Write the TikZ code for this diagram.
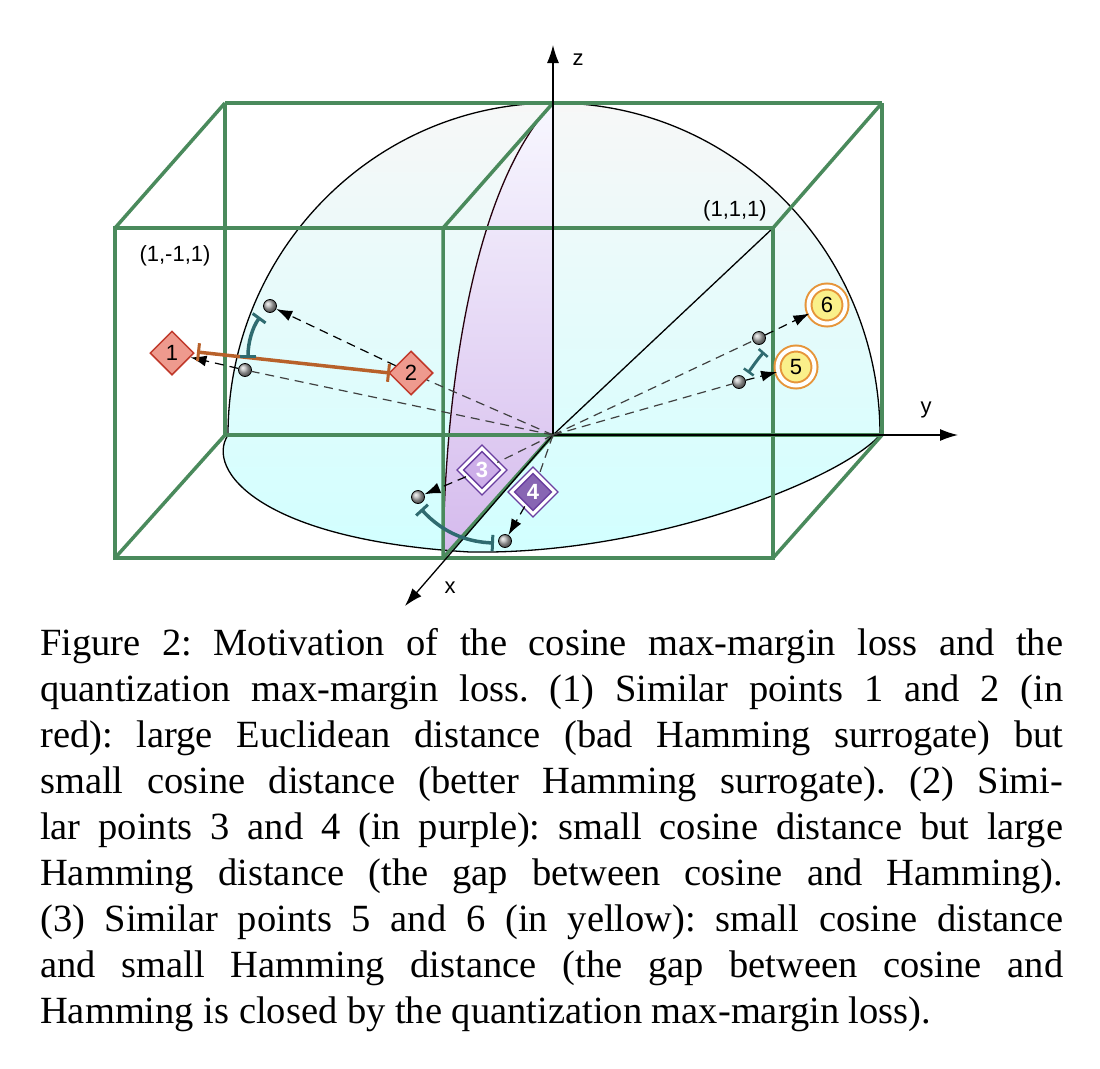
\documentclass[tikz,border=0pt]{standalone}
\usepackage{fontspec}
\setmainfont{Liberation Serif}
\setsansfont{Liberation Sans}
\usetikzlibrary{arrows.meta,shapes.geometric}
\definecolor{boxg}{HTML}{4A8A5C}
\definecolor{teal2}{HTML}{2F6B70}
\definecolor{rust}{HTML}{B8612A}
\definecolor{redf}{HTML}{EE9A8E}
\definecolor{redd}{HTML}{C0392B}
\definecolor{purf}{HTML}{B88BE0}
\definecolor{purd}{HTML}{6A3FA0}
\definecolor{orng}{HTML}{E6953A}
\definecolor{yel}{HTML}{FAF08A}
\tikzset{
 boxl/.style={draw=boxg,line width=3.5pt},
 axis/.style={draw=black,line width=1.3pt,-{Latex[length=18pt,width=12pt]}},
 dasharrow/.style={draw=black,dashed,line width=1.2pt,dash pattern=on 9pt off 6pt,-{Latex[length=16pt,width=11pt]}},
 dashl/.style={draw=black!75,dashed,line width=1.2pt,dash pattern=on 9pt off 6pt},
 ball/.style={circle,minimum size=13pt,inner sep=0pt,shading=ball,ball color=gray!60,draw=black,line width=0.8pt},
 reddia/.style={diamond,draw=redd,fill=redf,line width=1.5pt,minimum size=44pt,inner sep=0pt,font=\sffamily\fontsize{22}{22}\selectfont},
 purdia/.style={diamond,draw=purd,fill=#1,line width=1.5pt,double=white,double distance=3pt,minimum size=44pt,inner sep=0pt,text=white,font=\sffamily\bfseries\fontsize{22}{22}\selectfont},
 yelc/.style={circle,draw=orng,fill=yel,line width=2pt,double=white,double distance=4pt,minimum size=37pt,inner sep=0pt,font=\sffamily\fontsize{22}{22}\selectfont},
 cosarc/.style={draw=teal2,line width=3.5pt,{Bar[width=16pt,line width=3pt]}-{Bar[width=16pt,line width=3pt]}},
 lbl/.style={font=\sffamily\fontsize{22}{22}\selectfont}
}
\begin{document}
\begin{tikzpicture}[x=1pt,y=-1pt]
\useasboundingbox (0,0) rectangle (1100,1068);
% hemisphere
\path[top color=black!3,bottom color=cyan!18]
 (228,435) arc[start angle=180,end angle=360,x radius=326,y radius=332]
 .. controls (840,480) and (650,555) .. (470,552)
 .. controls (260,540) and (205,470) .. (228,435) -- cycle;
% purple region
\path[top color=purple!3!blue!3,bottom color=purf!60] (553,103) .. controls (475,185) and (445,380) .. (443,558) -- (553,435) -- cycle;
\draw[black,line width=1.3pt] (228,435) arc[start angle=180,end angle=360,x radius=326,y radius=332];
\draw[black,line width=1.3pt] (880,435) .. controls (840,480) and (650,555) .. (470,552)
 .. controls (260,540) and (205,470) .. (228,435);
\draw[black!80!purple,line width=1.3pt] (553,103) .. controls (475,185) and (445,380) .. (443,558);
\draw[black,line width=1.3pt] (553,435) -- (773,228);
% box
\draw[boxl] (225,103) -- (882,103) (225,103) -- (225,435) -- (882,435) (882,103) -- (882,435);
\draw[boxl] (115,228) rectangle (773,558);
\draw[boxl] (443,228) -- (443,558) (443,228) -- (553,103);
\draw[boxl] (115,228) -- (225,103) (773,228) -- (882,103) (115,558) -- (225,435) (773,558) -- (882,435) (443,558) -- (553,435);
% axes
\coordinate (O) at (553,435);
\coordinate (zt) at (553,45);
\coordinate (yt) at (958,435);
\coordinate (xt) at (405,606);
\draw[axis] (O) -- (zt);
\draw[axis] (O) -- (yt);
\draw[axis] (O) -- (xt);
\node[lbl] (zl) at (578,60) {z};
\node[lbl] (yl) at (926,410) {y};
\node[lbl] (xl) at (450,588) {x};
\node[lbl] (c1) at (175,256) {(1,-1,1)};
\node[lbl] (c2) at (735,211) {(1,1,1)};
% balls
\node[ball] (ba) at (270,306) {};
\node[ball] (bb) at (245,370) {};
\node[ball] (bc) at (418,497) {};
\node[ball] (bd) at (505,541) {};
\node[ball] (be) at (759,338) {};
\node[ball] (bf) at (739,382) {};
% pair 1-2
\node[reddia] (n1) at (172,353) {1};
\node[reddia] (n2) at (411,373) {2};
\draw[dashl] (O) -- (n2);
\draw[dasharrow] (n2) -- (ba);
\draw[dashl] (O) -- (bb);
\draw[dasharrow] (bb) -- (n1);
\draw[line width=3.5pt,draw=rust,{Bar[width=18pt,line width=3pt]}-{Bar[width=18pt,line width=3pt]}] (197,352) coordinate (r1) -- (390,373) coordinate (r2);
\draw[cosarc] (260,317) .. controls (252,328) and (248,343) .. (248,358);
% pair 3-4
\node[purdia=purf!70] (n3) at (482,470) {3};
\node[purdia=purd!80] (n4) at (533,492) {4};
\draw[dashl] (O) -- (n3);
\draw[dasharrow] (n3) -- (bc);
\draw[dashl] (O) -- (n4);
\draw[dasharrow] (n4) -- (bd);
\draw[cosarc] (421,509) .. controls (445,535) and (470,542) .. (494,543);
% pair 5-6
\node[yelc] (n6) at (827,305) {6};
\node[yelc] (n5) at (796,367) {5};
\draw[dashl] (O) -- (be);
\draw[dasharrow] (be) -- (n6);
\draw[dashl] (O) -- (bf);
\draw[dasharrow] (bf) -- (n5);
\draw[draw=teal2,line width=3pt,{Bar[width=12pt,line width=2.5pt]}-{Bar[width=12pt,line width=2.5pt]}] (764,352) .. controls (757,360) and (753,366) .. (748,373);
% caption
\node[anchor=north west,text width=1023pt,align=justify,inner sep=0pt,font=\frenchspacing\fontsize{38.5}{46}\selectfont] (cap) at (40,628) {Figure 2: Motivation of the cosine max-margin loss and the\linebreak quantization max-margin loss. (1) Similar points 1 and 2 (in\linebreak red): large Euclidean distance (bad Hamming surrogate) but\linebreak small cosine distance (better Hamming surrogate). (2) Simi-\linebreak lar points 3 and 4 (in purple): small cosine distance but large\linebreak Hamming distance (the gap between cosine and Hamming).\linebreak (3) Similar points 5 and 6 (in yellow): small cosine distance\linebreak and small Hamming distance (the gap between cosine and\linebreak Hamming is closed by the quantization max-margin loss).};
\end{tikzpicture}
\end{document}
